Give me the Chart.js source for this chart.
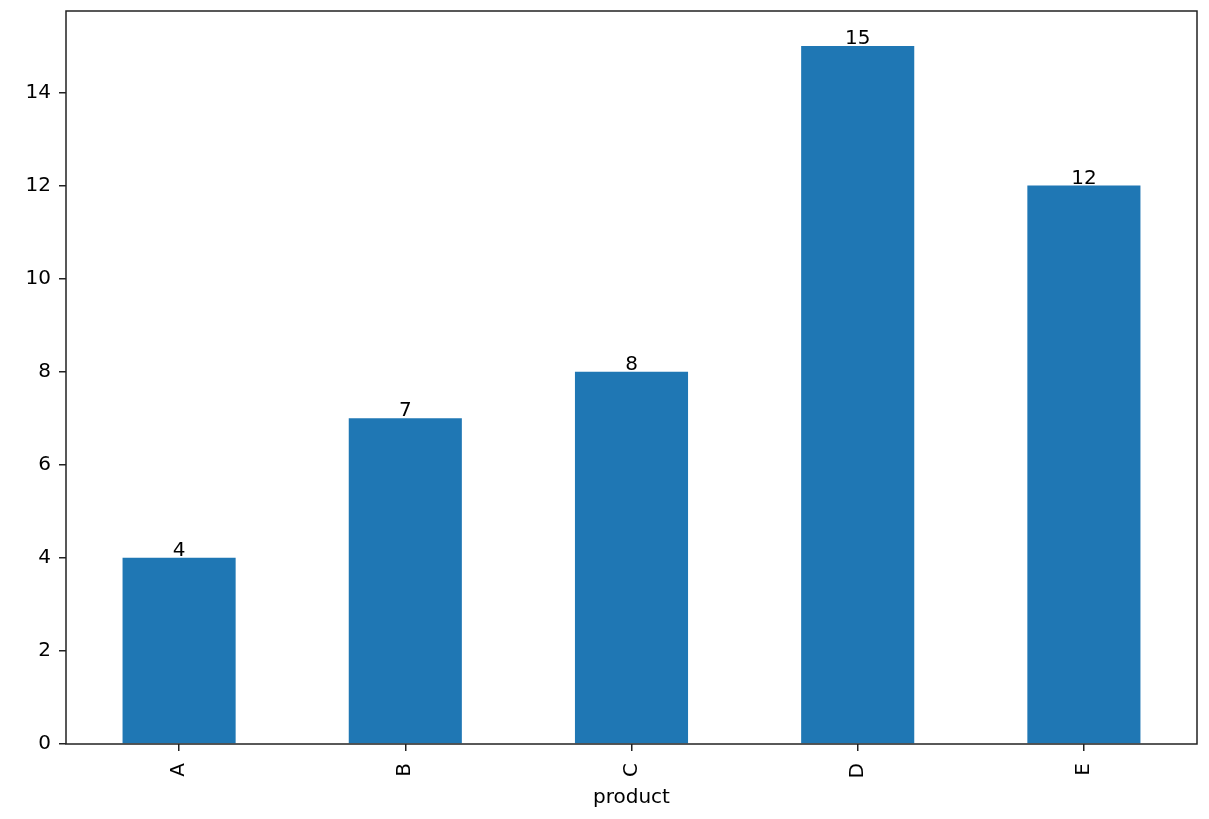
<!DOCTYPE html>
<html>
<head>
<meta charset="utf-8">
<script src="https://cdn.jsdelivr.net/npm/chart.js@4/dist/chart.umd.min.js"></script>
<style>
  html, body { margin: 0; padding: 0; background: #fff; }
  #wrap { width: 1209px; height: 819px; position: relative; }
</style>
</head>
<body>
<div id="wrap"><canvas id="barChart"></canvas></div>
<script>
var products = ['A', 'B', 'C', 'D', 'E'];
var counts = [4, 7, 8, 15, 12];
var yTicks = [0, 2, 4, 6, 8, 10, 12, 14];
var xTitle = 'product';

var FONT = '20px "DejaVu Sans"';

// box, rotated category labels, bar value labels and the axis title
var extrasPlugin = {
  id: 'extras',
  afterDraw: function (chart) {
    var ctx = chart.ctx;
    var area = chart.chartArea;
    var xScale = chart.scales.x;
    ctx.save();
    ctx.strokeStyle = '#222';
    ctx.lineWidth = 1.5;
    ctx.strokeRect(area.left, area.top, area.right - area.left, area.bottom - area.top);

    ctx.fillStyle = '#000';
    ctx.font = FONT;
    products.forEach(function (p, i) {
      var x = xScale.getPixelForTick(i);
      ctx.save();
      ctx.translate(x, area.bottom + 19);
      ctx.rotate(-Math.PI / 2);
      ctx.textAlign = 'right';
      ctx.textBaseline = 'alphabetic';
      ctx.fillText(p, 0, 5);
      ctx.restore();
    });

    var meta = chart.getDatasetMeta(0);
    ctx.textAlign = 'center';
    ctx.textBaseline = 'alphabetic';
    meta.data.forEach(function (bar, i) {
      ctx.fillText(String(counts[i]), bar.x, bar.y - 2);
    });

    ctx.fillText(xTitle, (area.left + area.right) / 2, 803);
    ctx.restore();
  }
};

var ctx = document.getElementById('barChart').getContext('2d');
var productChart = new Chart(ctx, {
  type: 'bar',
  data: {
    labels: products,
    datasets: [{
      data: counts,
      backgroundColor: '#1f77b4',
      borderWidth: 0,
      categoryPercentage: 1.0,
      barPercentage: 0.5
    }]
  },
  options: {
    responsive: true,
    maintainAspectRatio: false,
    animation: false,
    layout: { padding: { top: 11, right: 12, bottom: 0, left: 0 } },
    plugins: {
      legend: { display: false },
      tooltip: { enabled: false }
    },
    scales: {
      x: {
        offset: true,
        border: { display: false },
        grid: { drawOnChartArea: false, tickLength: 7, tickColor: '#222', lineWidth: 1.5, offset: false },
        ticks: { color: 'rgba(0,0,0,0)', maxRotation: 0, minRotation: 0, font: { family: 'DejaVu Sans', size: 20 } },
        afterFit: function (scale) {
          scale.height = 75;
          scale.paddingLeft = 0;
          scale.paddingRight = 0;
        }
      },
      y: {
        min: 0,
        max: 15.75,
        border: { display: false },
        grid: { drawOnChartArea: false, tickLength: 7, tickColor: '#222', lineWidth: 1.5 },
        ticks: {
          stepSize: 2,
          padding: 8,
          color: '#000',
          font: { family: 'DejaVu Sans', size: 20 }
        },
        afterBuildTicks: function (scale) {
          scale.ticks = yTicks.map(function (v) { return { value: v }; });
        },
        afterFit: function (scale) {
          scale.width = 66;
          scale.paddingTop = 0;
          scale.paddingBottom = 0;
        }
      }
    }
  },
  plugins: [extrasPlugin]
});
</script>
</body>
</html>
